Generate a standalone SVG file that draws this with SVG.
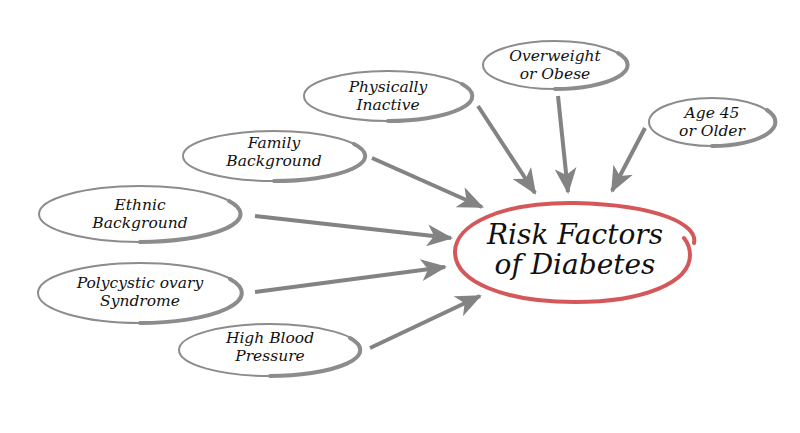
<svg xmlns="http://www.w3.org/2000/svg" width="800" height="433" viewBox="0 0 800 433">
<defs>
<style>
.node ellipse{fill:none;stroke:#8c8c8c;stroke-width:2}
.node path.thick{fill:none;stroke:#8c8c8c;stroke-width:4;stroke-linecap:round}
.node text{font-family:"DejaVu Serif","Liberation Serif",serif;font-style:italic;font-size:15.5px;fill:#111;text-anchor:middle}
.main text{font-family:"DejaVu Serif","Liberation Serif",serif;font-style:italic;font-size:28px;fill:#111;text-anchor:middle}
.conn line{stroke:#838383;stroke-width:4;marker-end:url(#ah)}
</style>
<marker id="ah" markerUnits="userSpaceOnUse" markerWidth="26" markerHeight="22" viewBox="0 0 26 22" refX="24" refY="11" orient="auto">
<path d="M0,0 L26,11 L0,22 L7,11 Z" fill="#838383"/>
</marker>
</defs>
<rect width="800" height="433" fill="#fff"/>
<g id="connectors" class="conn">
<line x1="478" y1="106" x2="535" y2="193"/>
<line x1="558" y1="96" x2="568" y2="192"/>
<line x1="645" y1="128" x2="612" y2="191"/>
<line x1="372" y1="158" x2="482" y2="207"/>
<line x1="255" y1="216" x2="451" y2="238"/>
<line x1="255" y1="292" x2="445" y2="267"/>
<line x1="370" y1="348" x2="480" y2="296"/>
</g>
<g id="node-physically-inactive" class="node">
<ellipse cx="388" cy="96" rx="84" ry="25"/>
<path class="thick" d="M462,84 A84,25 0 0 1 388,121"/>
<text x="388" y="92">Physically</text>
<text x="388" y="110">Inactive</text>
</g>
<g id="node-overweight" class="node">
<ellipse cx="555" cy="65" rx="72" ry="24"/>
<path class="thick" d="M618,53 A72,24 0 0 1 555,89"/>
<text x="555" y="61">Overweight</text>
<text x="555" y="79">or Obese</text>
</g>
<g id="node-age" class="node">
<ellipse cx="712" cy="122" rx="63" ry="24"/>
<path class="thick" d="M767,110 A63,24 0 0 1 712,146"/>
<text x="712" y="118">Age 45</text>
<text x="712" y="136">or Older</text>
</g>
<g id="node-family" class="node">
<ellipse cx="274" cy="156" rx="91" ry="25"/>
<path class="thick" d="M354,144 A91,25 0 0 1 274,181"/>
<text x="274" y="148">Family</text>
<text x="274" y="166">Background</text>
</g>
<g id="node-ethnic" class="node">
<ellipse cx="140" cy="214" rx="101" ry="28"/>
<path class="thick" d="M229,201 A101,28 0 0 1 140,242"/>
<text x="140" y="210">Ethnic</text>
<text x="140" y="228">Background</text>
</g>
<g id="node-polycystic" class="node">
<ellipse cx="140" cy="293" rx="102" ry="30"/>
<path class="thick" d="M230,279 A102,30 0 0 1 140,323"/>
<text x="140" y="288">Polycystic ovary</text>
<text x="140" y="306">Syndrome</text>
</g>
<g id="node-high-blood" class="node">
<ellipse cx="270" cy="350" rx="91" ry="26"/>
<path class="thick" d="M350,338 A91,26 0 0 1 270,376"/>
<text x="270" y="343">High Blood</text>
<text x="270" y="361">Pressure</text>
</g>
<g id="node-main" class="main">
<path d="M694,243 C698,225 660,205 575,203 C500,202 455,225 455,252 C455,282 505,302 575,302 C645,302 690,282 690,255 C690,248 688,243 684,238" fill="none" stroke="#d4585a" stroke-width="4" stroke-linecap="round"/>
<text x="575" y="244">Risk Factors</text>
<text x="575" y="274">of Diabetes</text>
</g>
</svg>
